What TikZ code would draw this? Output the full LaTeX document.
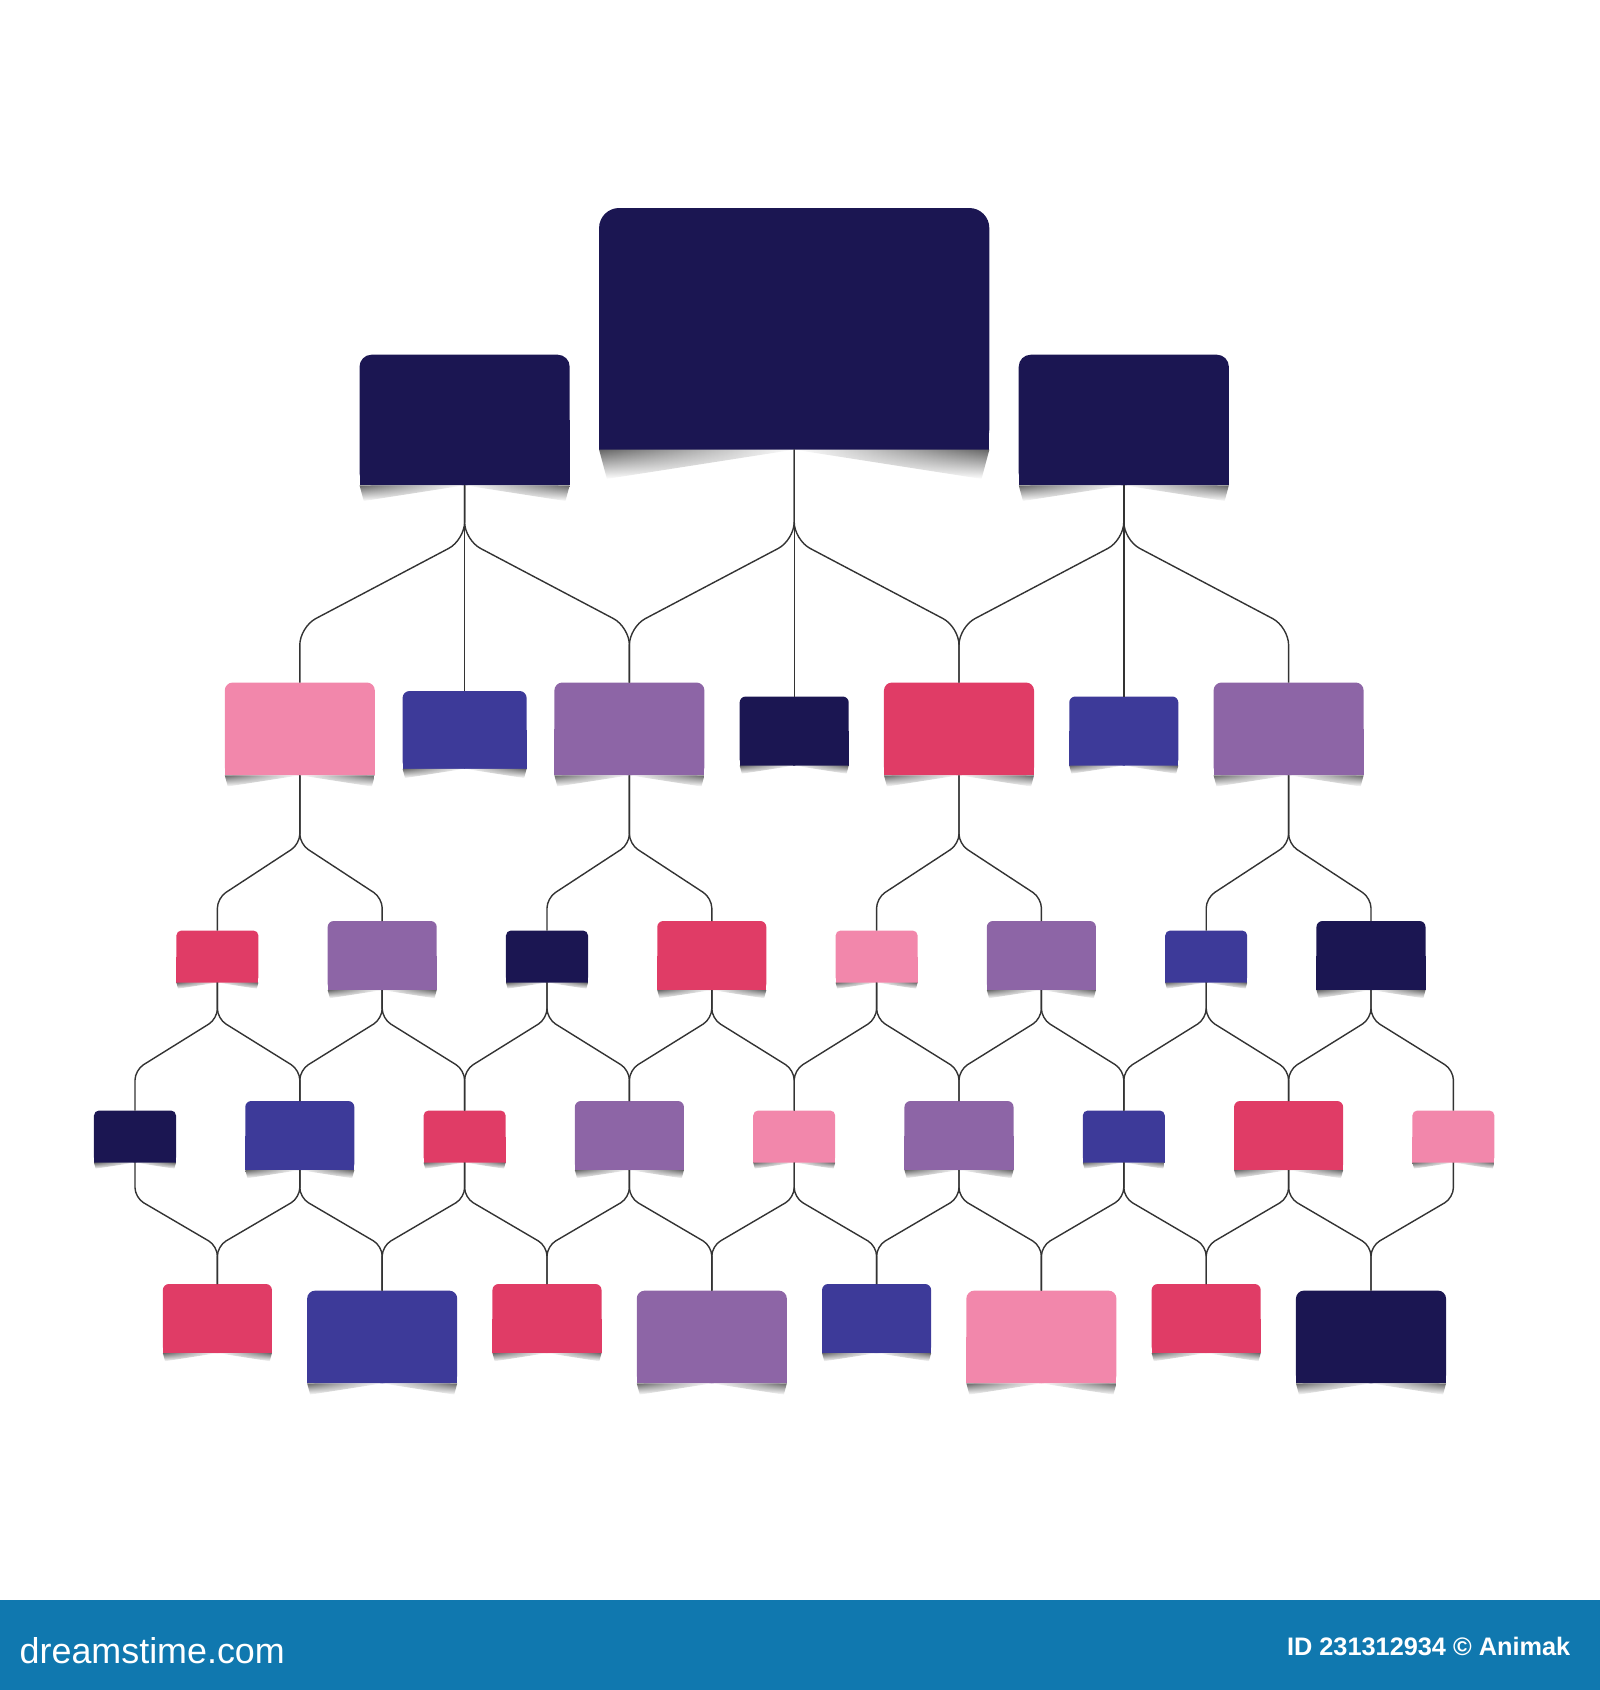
\documentclass[tikz,border=0pt]{standalone}
\usepackage{fontspec}
\newfontfamily\barfont{Liberation Sans}
\usetikzlibrary{calc, fadings}
\definecolor{cnavy}{RGB}{27,22,82}
\definecolor{cblue}{RGB}{61,58,153}
\definecolor{cpurple}{RGB}{141,101,166}
\definecolor{cpink}{RGB}{242,135,171}
\definecolor{cred}{RGB}{224,60,102}
\definecolor{cbar}{RGB}{16,120,175}
\tikzstyle{link} = [draw=black!80, line width=0.4pt]
\tikzstyle{shadowL} = [left color=black!60, right color=white, path fading=south]
\tikzstyle{shadowR} = [left color=white, right color=black!60, path fading=south]
\tikzset{
    card/.style n args={4}{
        rectangle, inner sep=0pt, outer sep=0pt, anchor=north,
        fill=#1, minimum width=#2, minimum height=#3, rounded corners=#4,
        label={[fill=#1, sharp corners, inner sep=0pt, outer sep=0pt,
                minimum width=#2, minimum height=#3/2, anchor=south,
                label distance=0pt]south:{}}
    },
    boxXS/.style={card={#1}{0.82cm}{0.52cm}{0.05cm}},
    boxS/.style={card={#1}{1.09cm}{0.69cm}{0.06cm}},
    boxM/.style={card={#1}{1.24cm}{0.777cm}{0.07cm}},
    boxL/.style={card={#1}{1.5cm}{0.927cm}{0.08cm}},
    boxXL/.style={card={#1}{2.1cm}{1.305cm}{0.12cm}},
    boxXXL/.style={card={#1}{3.9cm}{2.415cm}{0.2cm}}
}
\begin{document}
\begin{tikzpicture}[x=0.01cm, y=-0.01cm]
    \useasboundingbox (0,0) rectangle (1600,1690);
    \node (t) [boxXXL=cnavy] at (794.2,208) {};
    \node (tl) [boxXL=cnavy] at (464.6,354.7) {};
    \node (tr) [boxXL=cnavy] at (1123.8,354.7) {};

    \node (b1) [boxL=cpink] at (299.8,682.5) {};
    \node (b2) [boxM=cblue] at (464.6,691) {};
    \node (b3) [boxL=cpurple] at (629.4,682.5) {};
    \node (b4) [boxS=cnavy] at (794.2,696.5) {};
    \node (b5) [boxL=cred] at (959,682.5) {};
    \node (b6) [boxS=cblue] at (1123.8,696.5) {};
    \node (b7) [boxL=cpurple] at (1288.6,682.5) {};

    \node (c1) [boxXS=cred] at (217.4,930.5) {};
    \node (c2) [boxS=cpurple] at (382.2,921) {};
    \node (c3) [boxXS=cnavy] at (547,930.5) {};
    \node (c4) [boxS=cred] at (711.8,921) {};
    \node (c5) [boxXS=cpink] at (876.6,930.5) {};
    \node (c6) [boxS=cpurple] at (1041.4,921) {};
    \node (c7) [boxXS=cblue] at (1206.2,930.5) {};
    \node (c8) [boxS=cnavy] at (1371,921) {};

    \node (d1) [boxXS=cnavy] at (135,1110.5) {};
    \node (d2) [boxS=cblue] at (299.8,1101) {};
    \node (d3) [boxXS=cred] at (464.6,1110.5) {};
    \node (d4) [boxS=cpurple] at (629.4,1101) {};
    \node (d5) [boxXS=cpink] at (794.2,1110.5) {};
    \node (d6) [boxS=cpurple] at (959,1101) {};
    \node (d7) [boxXS=cblue] at (1123.8,1110.5) {};
    \node (d8) [boxS=cred] at (1288.6,1101) {};
    \node (d9) [boxXS=cpink] at (1453.4,1110.5) {};

    \node (e1) [boxS=cred] at (217.4,1284) {};
    \node (e2) [boxL=cblue] at (382.2,1290.6) {};
    \node (e3) [boxS=cred] at (547,1284) {};
    \node (e4) [boxL=cpurple] at (711.8,1290.6) {};
    \node (e5) [boxS=cblue] at (876.6,1284) {};
    \node (e6) [boxL=cpink] at (1041.4,1290.6) {};
    \node (e7) [boxS=cred] at (1206.2,1284) {};
    \node (e8) [boxL=cnavy] at (1371,1290.6) {};

    % shadows under the cards
    \foreach \b in {t,tl,tr,b1,b2,b3,b4,b5,b6,b7,c1,c2,c3,c4,c5,c6,c7,c8,
                    d1,d2,d3,d4,d5,d6,d7,d8,d9,e1,e2,e3,e4,e5,e6,e7,e8} {
        \shade [shadowL]
            let \p1 = (\b.south west), \p2 = (\b.south) in
            (\p1) -- ({\x1+0.04*(\x2-\x1)}, {\y1-0.15*(\x2-\x1)}) -- (\p2) -- cycle;
        \shade [shadowR]
            let \p1 = (\b.south east), \p2 = (\b.south) in
            (\p2) -- ({\x1-0.04*(\x1-\x2)}, {\y1-0.15*(\x1-\x2)}) -- (\p1) -- cycle;
    }

    \foreach \p/\c in {tl/b1,tl/b2,tl/b3,t/b3,t/b4,t/b5,tr/b5,tr/b6,tr/b7}
        \draw [link, rounded corners=0.18cm] (\p.south) -- (\p.south |- 0,540) -- (\c.north |- 0,627) -- (\c.north);
    \foreach \p/\c in {b1/c1,b1/c2,b3/c3,b3/c4,b5/c5,b5/c6,b7/c7,b7/c8}
        \draw [link, rounded corners=0.1cm] (\p.south) -- (\p.south |- 0,844) -- (\c.north |- 0,898) -- (\c.north);
    \foreach \p/\c in {c1/d1,c1/d2,c2/d2,c2/d3,c3/d3,c3/d4,c4/d4,c4/d5,
                       c5/d5,c5/d6,c6/d6,c6/d7,c7/d7,c7/d8,c8/d8,c8/d9}
        \draw [link, rounded corners=0.1cm] (\p.south) -- (\p.south |- 0,1018.7) -- (\c.north |- 0,1070) -- (\c.north);
    \foreach \p/\c in {d1/e1,d2/e1,d2/e2,d3/e2,d3/e3,d4/e3,d4/e4,d5/e4,
                       d5/e5,d6/e5,d6/e6,d7/e6,d7/e7,d8/e7,d8/e8,d9/e8}
        \draw [link, rounded corners=0.1cm] (\p.south) -- (\p.south |- 0,1197.7) -- (\c.north |- 0,1246) -- (\c.north);

    \fill [cbar] (0,1600) rectangle (1600,1690);
    \node (logo) [anchor=base west, inner sep=0pt, text=white, font=\barfont\fontsize{10.2pt}{12pt}\selectfont] at (19,1663) {dreamstime.com};
    \node (credit) [anchor=base east, inner sep=0pt, text=white, font=\barfont\bfseries\fontsize{7.2pt}{9pt}\selectfont] at (1571,1655) {ID 231312934 © Animak};
\end{tikzpicture}
\end{document}
